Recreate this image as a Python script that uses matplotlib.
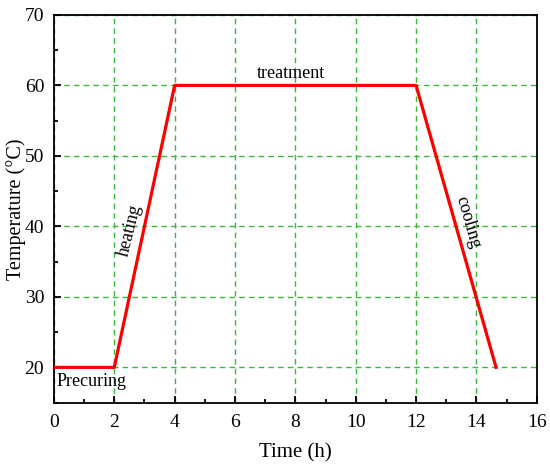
import numpy as np
import matplotlib.pyplot as plt
from matplotlib.ticker import MultipleLocator

plt.rcParams['font.family'] = ['Liberation Serif', 'DejaVu Serif']

# Datos del ciclo de curado
tiempo = [0, 2, 4, 12, 14.65]
temp = [20, 20, 60, 60, 20]

fig = plt.figure(figsize=(5.5, 4.66), dpi=100)
ax = fig.add_axes([0.098, 0.136, 0.878, 0.832])

ax.plot(tiempo, temp, color='#ff0000', lw=2.3, zorder=3)

ax.set_xlim(0, 16)
ax.set_ylim(15, 70)
ax.xaxis.set_major_locator(MultipleLocator(2))
ax.xaxis.set_minor_locator(MultipleLocator(1))
ax.yaxis.set_major_locator(MultipleLocator(10))
ax.yaxis.set_minor_locator(MultipleLocator(5))
ax.set_yticks([20, 30, 40, 50, 60, 70])
ax.tick_params(which='both', direction='in', labelsize=14, width=1.3)
ax.tick_params(which='major', length=5)
ax.tick_params(which='minor', length=3)
ax.tick_params(axis='x', which='both', pad=8)
ax.tick_params(axis='y', which='both', pad=7)
for s in ax.spines.values():
    s.set_linewidth(1.3)

ax.grid(True, which='major', color='#3cb83c', ls=(0, (4, 3)), lw=1.0)

ax.set_xlabel('Time (h)', fontsize=15, labelpad=9)
ax.set_ylabel('Temperature (\u00b0C)', fontsize=14.5)
ax.yaxis.set_label_coords(-0.058, 0.5)

# Etiquetas de las etapas
ax.text(7.85, 61.7, 'treatment', fontsize=13, ha='center', va='center')
ax.text(2.52, 39.5, 'heating', fontsize=13, ha='center', va='center', rotation=76)
ax.text(13.72, 40.6, 'cooling', fontsize=13, ha='center', va='center', rotation=-74)
ax.text(0.09, 18.0, 'Precuring', fontsize=13, ha='left', va='center')

fig.savefig('out.png', dpi=100)
